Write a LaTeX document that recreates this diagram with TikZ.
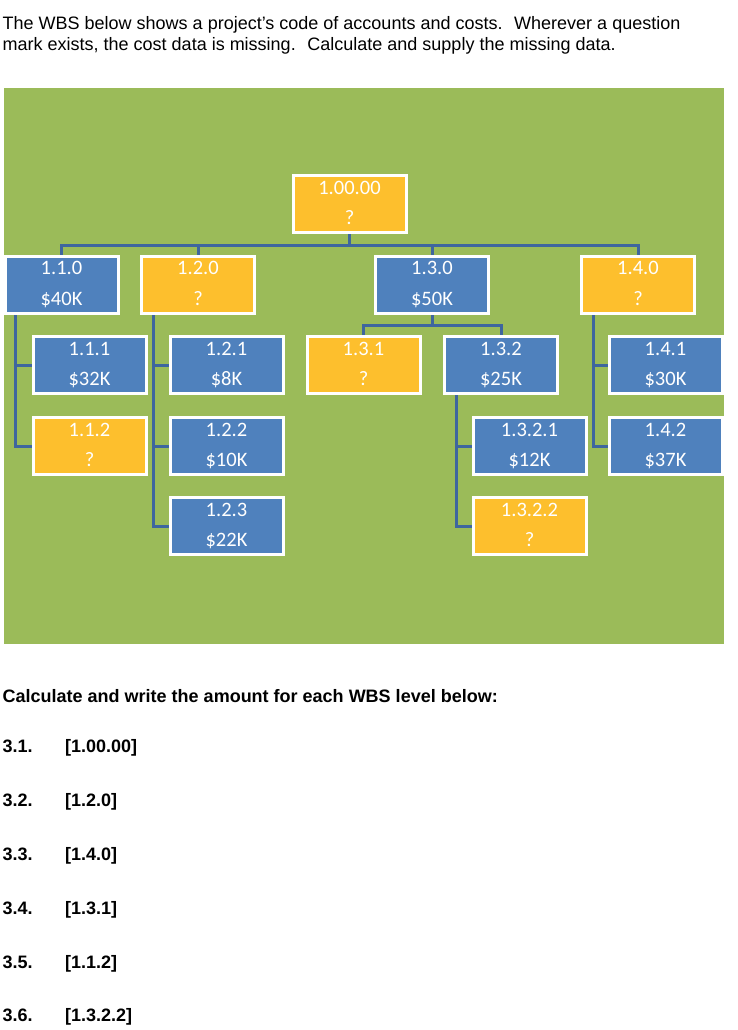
\documentclass[tikz,border=0pt]{standalone}
\usepackage{fontspec}
\setmainfont{Liberation Sans}
\newfontfamily\boxfont{Carlito}
\usetikzlibrary{backgrounds}
\definecolor{wbsgreen}{HTML}{9BBB59}
\definecolor{wbsblue}{HTML}{4F81BD}
\definecolor{wbsorange}{HTML}{FDBF2D}
\definecolor{wbsline}{RGB}{62,102,158}
\tikzset{
  wbs/.style={draw=white, line width=3pt, minimum width=113pt, minimum height=57pt, inner sep=0pt},
  wbstxt/.style={anchor=base, inner sep=0pt, text=white, font=\boxfont\fontsize{20.5}{24}\selectfont},
  conn/.style={draw=wbsline, line width=3pt},
  plain/.style={anchor=base west, inner sep=0pt, font=\fontsize{18}{21.7}\selectfont},
  bold/.style={anchor=base west, inner sep=0pt, font=\bfseries\fontsize{18}{21.7}\selectfont}
}
\newcommand\wbsbox[6]{%
  \node[wbs, fill=#2] (#1) at (#3,#4) {};
  \node[wbstxt] (#1a) at ({#3},{#4-10}) {#5};
  \node[wbstxt] (#1b) at ({#3},{#4+20.5}) {#6};
}
\begin{document}
\begin{tikzpicture}[x=1pt,y=-1pt]
\useasboundingbox (0,0) rectangle (738,1030);
% header
\node[plain] (h1) at (2.5,29.5) {The WBS below shows a project{\char"0027}s code of accounts and costs.~ Wherever a question};
\node[plain] (h2) at (2.5,51) {mark exists, the cost data is missing.~ Calculate and supply the missing data.};
% boxes
\wbsbox{root}{wbsorange}{349.5}{204}{1.00.00}{?}
\wbsbox{n110}{wbsblue}{61.5}{284.5}{1.1.0}{\$40K}
\wbsbox{n120}{wbsorange}{198}{284.5}{1.2.0}{?}
\wbsbox{n130}{wbsblue}{432}{284.5}{1.3.0}{\$50K}
\wbsbox{n140}{wbsorange}{638}{284.5}{1.4.0}{?}
\wbsbox{n111}{wbsblue}{89.5}{365}{1.1.1}{\$32K}
\wbsbox{n121}{wbsblue}{226.5}{365}{1.2.1}{\$8K}
\wbsbox{n131}{wbsorange}{363.5}{365}{1.3.1}{?}
\wbsbox{n132}{wbsblue}{501}{365}{1.3.2}{\$25K}
\wbsbox{n141}{wbsblue}{665.5}{365}{1.4.1}{\$30K}
\wbsbox{n112}{wbsorange}{89.5}{446}{1.1.2}{?}
\wbsbox{n122}{wbsblue}{226.5}{446}{1.2.2}{\$10K}
\wbsbox{n1321}{wbsblue}{529.5}{446}{1.3.2.1}{\$12K}
\wbsbox{n142}{wbsblue}{665.5}{446}{1.4.2}{\$37K}
\wbsbox{n123}{wbsblue}{226.5}{526}{1.2.3}{\$22K}
\wbsbox{n1322}{wbsorange}{529.5}{526}{1.3.2.2}{?}
% helper coordinates
\coordinate (bar1) at (0,245);
\coordinate (bar13) at (0,325);
\coordinate (v110) at (15,0);
\coordinate (v120) at (153,0);
\coordinate (v132) at (456,0);
\coordinate (v140) at (593,0);
\begin{scope}[on background layer]
  \fill[white] (0,0) rectangle (738,1030);
  \fill[wbsgreen] (4,88) rectangle (724,644);
  % level 1
  \draw[conn] (root.south) -- (root.south |- bar1);
  \draw[conn] (n110.north) -- (n110.north |- bar1) -- (n140.north |- bar1) -- (n140.north);
  \draw[conn] (n120.north) -- (n120.north |- bar1);
  \draw[conn] (n130.north) -- (n130.north |- bar1);
  % 1.1.0
  \draw[conn] (n110.south -| v110) |- (n112.west);
  \draw[conn] (v110 |- n111.west) -- (n111.west);
  % 1.2.0
  \draw[conn] (n120.south -| v120) |- (n123.west);
  \draw[conn] (v120 |- n121.west) -- (n121.west);
  \draw[conn] (v120 |- n122.west) -- (n122.west);
  % 1.3.0
  \draw[conn] (n130.south) -- (n130.south |- bar13);
  \draw[conn] (n131.north) -- (n131.north |- bar13) -- (n132.north |- bar13) -- (n132.north);
  % 1.3.2
  \draw[conn] (n132.south -| v132) |- (n1322.west);
  \draw[conn] (v132 |- n1321.west) -- (n1321.west);
  % 1.4.0
  \draw[conn] (n140.south -| v140) |- (n142.west);
  \draw[conn] (v140 |- n141.west) -- (n141.west);
\end{scope}
% questions
\node[bold] (q) at (2.5,702) {Calculate and write the amount for each WBS level below:};
\node[bold] (l1) at (2.5,752) {3.1.};
\node[bold] (c1) at (65,752) {[1.00.00]};
\node[bold] (l2) at (2.5,806) {3.2.};
\node[bold] (c2) at (65,806) {[1.2.0]};
\node[bold] (l3) at (2.5,860) {3.3.};
\node[bold] (c3) at (65,860) {[1.4.0]};
\node[bold] (l4) at (2.5,914) {3.4.};
\node[bold] (c4) at (65,914) {[1.3.1]};
\node[bold] (l5) at (2.5,968) {3.5.};
\node[bold] (c5) at (65,968) {[1.1.2]};
\node[bold] (l6) at (2.5,1021) {3.6.};
\node[bold] (c6) at (65,1021) {[1.3.2.2]};
\end{tikzpicture}
\end{document}
